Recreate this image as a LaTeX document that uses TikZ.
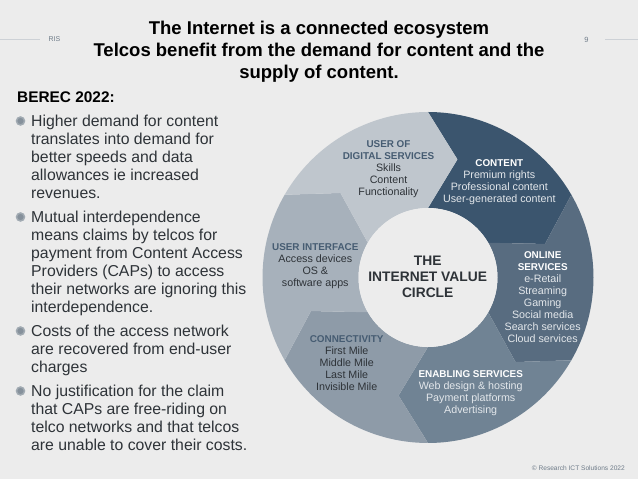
\documentclass[tikz,border=0pt]{standalone}
\usepackage{fontspec}
\setmainfont{Liberation Sans}
\usepackage{tikz}
\definecolor{pagebg}{HTML}{ECECEC}
\definecolor{segcontent}{HTML}{3B556E}
\definecolor{segonline}{HTML}{586C80}
\definecolor{segenabling}{HTML}{708394}
\definecolor{segconnect}{HTML}{8E9BA8}
\definecolor{seginterface}{HTML}{A7B1BB}
\definecolor{seguser}{HTML}{BFC6CD}
\definecolor{headdark}{HTML}{465C72}
\definecolor{bodydark}{HTML}{2E3338}
\definecolor{bodylight}{HTML}{E3E7EB}
\definecolor{softgrey}{HTML}{6F7C89}
\newcommand{\darkhead}[1]{{\fontsize{9.9}{12}\selectfont\color{headdark}\textbf{#1}}}
\newcommand{\lighthead}[1]{{\fontsize{9.9}{12}\selectfont\color{white}\textbf{#1}}}

\begin{document}
\begin{tikzpicture}[x = 1pt, y = 1pt,
  wheeltext/.style = {align = center, text = bodydark, font = \fontsize{10.7}{12}\selectfont},
  wheellight/.style = {wheeltext, text = bodylight},
  bodytext/.style = {anchor = north west, align = left, inner sep = 0, text = bodydark, font = \fontsize{15.8}{18.1}\selectfont},
  bulletmark/.style = {circle, draw = softgrey!65, line width = 1.5pt, fill = softgrey!85, minimum size = 8pt, inner sep = 0}]
\useasboundingbox (0, 0) rectangle (638, 479);
\fill[pagebg] (0, 0) rectangle (638, 479);
% header
\draw[softgrey!35, line width = 0.4pt] (0, 440) -- (40, 440);
\draw[softgrey!35, line width = 0.4pt] (605, 440) -- (638, 440);
\node[text = softgrey, font = \fontsize{7}{8}\selectfont] (ris) at (54.5, 439.5) {RIS};
\node[text = softgrey, font = \fontsize{7.5}{8}\selectfont] (pagenum) at (586.5, 439.5) {9};
\node[align = center, text = black, font = \fontsize{18.5}{22}\bfseries\selectfont] (title) at (319, 427)
  {The Internet is a connected ecosystem\\Telcos benefit from the demand for content and the\\supply of content.};
% left column
\node[anchor = west, inner sep = 0, text = black, font = \fontsize{15.4}{18}\bfseries\selectfont] (berec) at (17, 382) {BEREC 2022:};
\node[bodytext] (higher) at (31, 364.5)
  {Higher demand for content\\translates into demand for\\better speeds and data\\allowances ie increased\\revenues.};
\node[bodytext] (mutual) at (31, 268.5)
  {Mutual interdependence\\means claims by telcos for\\payment from Content Access\\Providers (CAPs) to access\\their networks are ignoring this\\interdependence.};
\node[bodytext] (costs) at (31, 154.5)
  {Costs of the access network\\are recovered from end-user\\charges};
\node[bodytext] (nojust) at (31, 94.5)
  {No justification for the claim\\that CAPs are free-riding on\\telco networks and that telcos\\are unable to cover their costs.};
\node[bulletmark] (bulleta) at (20.5, 358) {};
\node[bulletmark] (bulletb) at (20.5, 262) {};
\node[bulletmark] (bulletc) at (20.5, 148) {};
\node[bulletmark] (bulletd) at (20.5, 88) {};
% wheel
\begin{scope}[shift = {(428, 201.5)}]
\foreach \a/\segcol in {90/segcontent, 30/segonline, -30/segenabling, -90/segconnect, -150/seginterface, -210/seguser} {
  \fill[\segcol] (\a:165.5) arc[start angle = \a, end angle = \a - 60, radius = 165.5]
    -- ({\a - 74}:121.7) -- ({\a - 60}:69.5)
    arc[start angle = \a - 60, end angle = \a, radius = 69.5]
    -- ({\a - 14}:121.7) -- cycle;
}
\fill[pagebg] (0, 0) circle (69.5);
\end{scope}
\node[align = center, text = bodydark, font = \fontsize{13.8}{16.2}\bfseries\selectfont] (hub) at (427.7, 202.3)
  {THE\\INTERNET VALUE\\CIRCLE};
\node[wheeltext] (user) at (388.5, 310.3)
  {\darkhead{USER OF}\\\darkhead{DIGITAL SERVICES}\\Skills\\Content\\Functionality};
\node[wheellight] (content) at (499.3, 297)
  {\lighthead{CONTENT}\\Premium rights\\Professional content\\User-generated content};
\node[wheellight] (online) at (542.7, 182)
  {\lighthead{ONLINE}\\\lighthead{SERVICES}\\e-Retail\\Streaming\\Gaming\\Social media\\Search services\\Cloud services};
\node[wheellight] (enabling) at (470.7, 86)
  {\lighthead{ENABLING SERVICES}\\Web design \& hosting\\Payment platforms\\Advertising};
\node[wheeltext] (connect) at (346.7, 115.5)
  {\darkhead{CONNECTIVITY}\\First Mile\\Middle Mile\\Last Mile\\Invisible Mile};
\node[wheeltext] (interface) at (315.3, 213)
  {\darkhead{USER INTERFACE}\\Access devices\\OS \&\\software apps};
% footer
\node[anchor = east, inner sep = 0, text = softgrey, font = \fontsize{6.6}{9}\selectfont] (credit) at (625, 11) {© Research ICT Solutions 2022};
\end{tikzpicture}
\end{document}
